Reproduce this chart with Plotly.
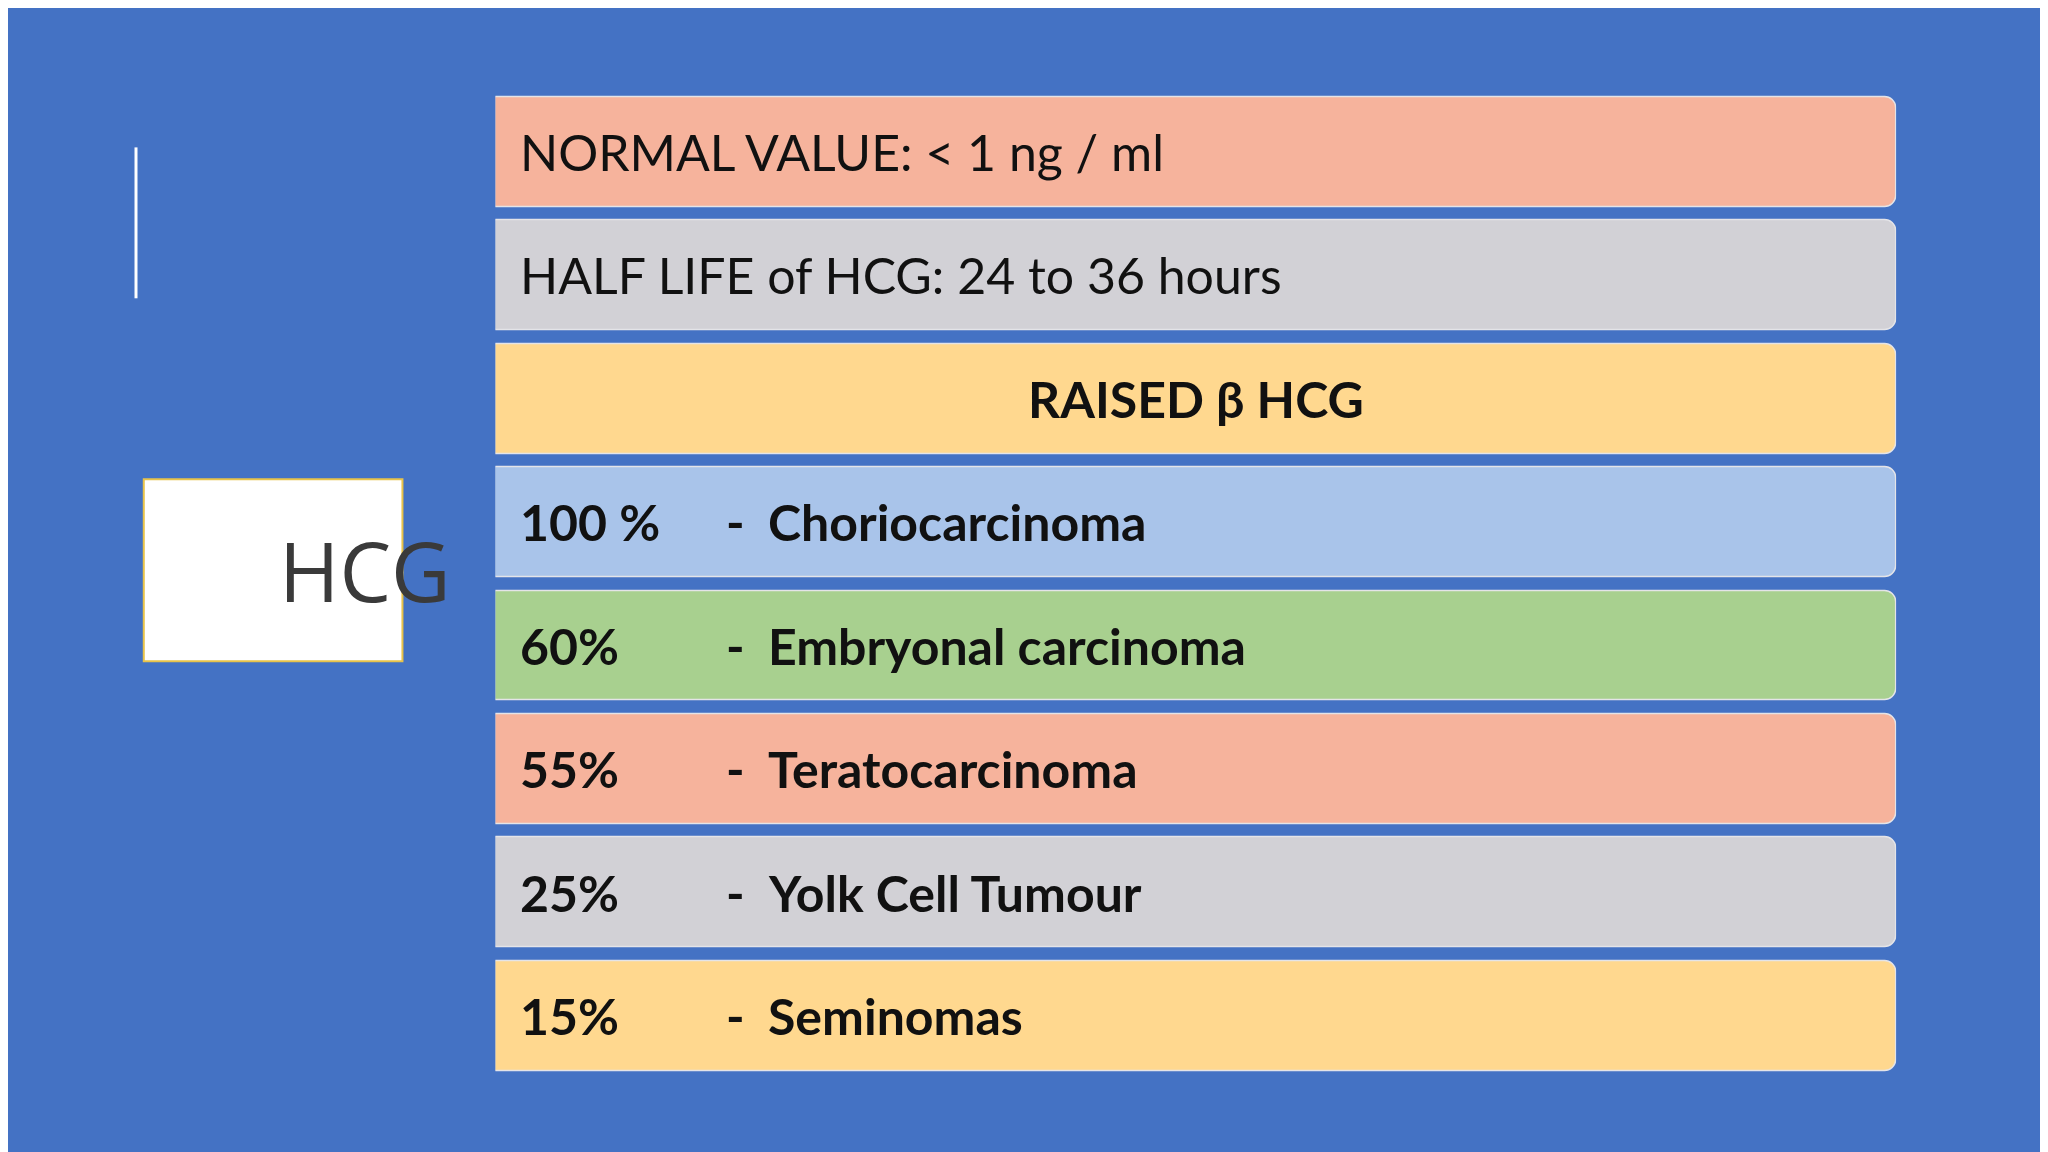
import plotly.graph_objects as go

# rows from top to bottom
row_pct = ["", "", "", "100 %", "60%", "55%", "25%", "15%"]
row_text = ["NORMAL VALUE: < 1 ng / ml", "HALF LIFE of HCG: 24 to 36 hours", "RAISED β HCG",
            "Choriocarcinoma", "Embryonal carcinoma", "Teratocarcinoma", "Yolk Cell Tumour", "Seminomas"]
row_colors = ["#F6B39C", "#D2D1D6", "#FFD88F", "#A9C4EA", "#A8D08F", "#F6B39C", "#D2D1D6", "#FFD88F"]
row_ids = list(range(len(row_text)))

BG = "#4472C4"
FONT = "Lato"

fig = go.Figure()
fig.add_trace(go.Bar(
    x=[1] * len(row_ids), y=row_ids, orientation="h", width=0.89,
    marker=dict(color=row_colors, cornerradius=12, line=dict(color="#E4E4E8", width=1.5)),
    hoverinfo="skip"))

annotations = []
for i, (pct, txt) in enumerate(zip(row_pct, row_text)):
    if i < 2:
        annotations.append(dict(x=0.016, y=i, text=txt, xanchor="left", showarrow=False,
                                font=dict(family=FONT, size=50, color="#111")))
    elif i == 2:
        annotations.append(dict(x=0.5, y=i, text="<b>" + txt + "</b>", xanchor="center", showarrow=False,
                                font=dict(family=FONT, size=50, color="#111")))
    else:
        annotations.append(dict(x=0.016, y=i, text="<b>" + pct + "</b>", xanchor="left", showarrow=False,
                                font=dict(family=FONT, size=50, color="#111")))
        annotations.append(dict(x=0.163, y=i, text="<b>-</b>", xanchor="left", showarrow=False,
                                font=dict(family=FONT, size=50, color="#111")))
        annotations.append(dict(x=0.193, y=i, text="<b>" + txt + "</b>", xanchor="left", showarrow=False,
                                font=dict(family=FONT, size=50, color="#111")))

# HCG title box
annotations.append(dict(xref="paper", yref="paper", x=0.1315, y=0.5125, text="HCG", showarrow=False,
                        font=dict(family="Open Sans", size=82, color="#3a3a3a")))

fig.update_layout(
    width=2048, height=1152, paper_bgcolor=BG, plot_bgcolor=BG,
    margin=dict(l=0, r=0, t=0, b=0), showlegend=False, bargap=0,
    xaxis=dict(domain=[0.238, 0.922], range=[0, 1], visible=False),
    yaxis=dict(domain=[0.0714, 0.9286], range=[7.5, -0.5], visible=False),
    annotations=annotations,
    shapes=[
        dict(type="rect", xref="paper", yref="paper", x0=0.0663, x1=0.1926, y0=0.433, y1=0.591,
             fillcolor="white", line=dict(color="#E8C34A", width=2), layer="below"),
        dict(type="line", xref="paper", yref="paper", x0=0.0625, x1=0.0625, y0=0.748, y1=0.879,
             line=dict(color="white", width=3)),
    ],
)

fig.write_html("out.html")
